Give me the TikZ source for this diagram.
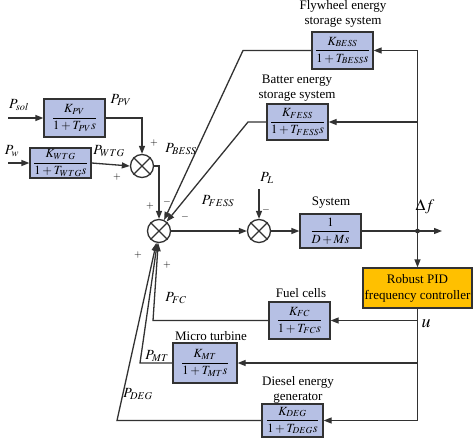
\documentclass[tikz,border=0pt]{standalone}
\usepackage{amsmath}
\usepackage{mathptmx}
\usepackage[no-math]{fontspec}
\setmainfont{Liberation Serif}
\usetikzlibrary{arrows.meta}
\definecolor{boxblue}{RGB}{182,192,228}
\definecolor{pidor}{RGB}{255,192,0}
\definecolor{edge}{RGB}{50,50,50}
\tikzset{
  blk/.style={draw=edge, fill=boxblue, line width=1.3pt, inner sep=0pt, font=\fontsize{12.5}{13}\selectfont},
  sumc/.style={circle, draw=edge, line width=1.3pt, minimum size=23pt, inner sep=0pt},
  wire/.style={draw=edge, line width=1.3pt},
  arr/.style={wire, -{Triangle[length=8pt,width=6pt]}},
  lab/.style={font=\fontsize{14}{14}\selectfont, inner sep=0pt},
  captxt/.style={font=\fontsize{13}{15}\selectfont, align=center, inner sep=0pt},
  sgn/.style={font=\fontsize{10}{10}\selectfont, inner sep=0pt}
}
\begin{document}
\begin{tikzpicture}[x=1pt,y=-1pt]
\useasboundingbox (0,0) rectangle (474,439);
% blocks
\node[blk, minimum width=61pt, minimum height=38pt] (pv) at (74.5,118) {$\dfrac{K_{PV}}{1+T_{PV}s}$};
\node[blk, minimum width=61pt, minimum height=30pt] (wtg) at (60.5,163) {$\dfrac{K_{WTG}}{1+T_{WTG}s}$};
\node[blk, minimum width=61pt, minimum height=37pt] (bess) at (342.5,50.5) {$\dfrac{K_{BESS}}{1+T_{BESS}s}$};
\node[blk, minimum width=61pt, minimum height=36pt] (fess) at (297.5,122) {$\dfrac{K_{FESS}}{1+T_{FESS}s}$};
\node[blk, minimum width=61pt, minimum height=34pt] (sys) at (330.5,231) {$\dfrac{1}{D+Ms}$};
\node[blk, minimum width=61pt, minimum height=37pt] (fc) at (299.5,320.5) {$\dfrac{K_{FC}}{1+T_{FC}s}$};
\node[blk, minimum width=64pt, minimum height=40pt] (mt) at (205,363) {$\dfrac{K_{MT}}{1+T_{MT}s}$};
\node[blk, minimum width=61pt, minimum height=33pt] (deg) at (292.5,420.5) {$\dfrac{K_{DEG}}{1+T_{DEG}s}$};
\node[draw=edge, fill=pidor, line width=1.3pt, minimum width=109pt, minimum height=40pt, align=center, inner sep=0pt, font=\fontsize{13}{16}\selectfont] (pid) at (417.5,288) {Robust PID\\frequency controller};
% summing junctions
\node[sumc] (s1) at (142,166) {};
\node[sumc] (ms) at (159,231) {};
\node[sumc] (s2) at (259,231) {};
\foreach \s in {s1,ms,s2}{
  \draw[wire] (\s.north west) -- (\s.south east);
  \draw[wire] (\s.north east) -- (\s.south west);
}
% captions
\node[captxt] (c1) at (343,14) {Flywheel energy\\storage system};
\node[captxt] (c2) at (297,88.5) {Batter energy\\storage system};
\node[captxt] (c3) at (331,203) {System};
\node[captxt] (c4) at (301,293) {Fuel cells};
\node[captxt] (c5) at (211,336) {Micro turbine};
\node[captxt] (c6) at (298,389.5) {Diesel energy\\generator};
% coordinates
\coordinate (psol) at (8,118);
\coordinate (pw) at (8,163);
\coordinate (pl) at (259,189);
\coordinate (jn) at (417.5,231);
\coordinate (out) at (442,231);
\coordinate (tr) at (417.5,50.5);
\coordinate (fr) at (417.5,122);
\coordinate (fcr) at (417.5,320.5);
\coordinate (mtr) at (417.5,363);
\coordinate (dr) at (417.5,420.5);
\coordinate (bk) at (243,50.5);
\coordinate (fk) at (248,122);
\coordinate (fck) at (153,320.5);
\coordinate (mtk) at (140,363);
\coordinate (dk) at (117,420.5);
% connectors
\draw[arr] (psol) -- (pv.west);
\draw[arr] (pw) -- (wtg.west);
\draw[arr] (pv.east) -| (s1.north);
\draw[arr] (wtg.east) -- (s1.west);
\draw[arr] (s1.east) -| (ms.north);
\draw[arr] (ms.east) -- (s2.west);
\draw[arr] (pl) -- (s2.north);
\draw[arr] (s2.east) -- (sys.west);
\draw[arr] (sys.east) -- (out);
\draw[arr] (jn) -- (pid.north);
\draw[arr] (jn) -- (tr) -- (bess.east);
\draw[arr] (fr) -- (fess.east);
\draw[wire] (pid.south) -- (dr);
\draw[arr] (fcr) -- (fc.east);
\draw[arr] (mtr) -- (mt.east);
\draw[arr] (dr) -- (deg.east);
\draw[arr] (bess.west) -- (bk) -- (ms);
\draw[arr] (fess.west) -- (fk) -- (ms);
\draw[arr] (fc.west) -- (fck) -- (ms);
\draw[arr] (mt.west) -- (mtk) -- (ms);
\draw[arr] (deg.west) -- (dk) -- (ms);
\fill[edge] (jn) circle (2.4pt);
% labels
\node[lab] (lsol) at (19,105) {$P_{sol}$};
\node[lab] (lw) at (12,151) {$P_{w}$};
\node[lab] (lpv) at (121,100) {$P_{PV}$};
\node[lab] (lwtg) at (109,151) {$P_{WTG}$};
\node[lab] (lbess) at (181,149) {$P_{BESS}$};
\node[lab] (lfess) at (218,201) {$P_{FESS}$};
\node[lab] (lpl) at (267,178) {$P_{L}$};
\node[lab, font=\fontsize{16}{16}\selectfont] (ldf) at (425,207) {$\Delta f$};
\node[lab, font=\fontsize{18}{18}\selectfont] (lu) at (426,324) {$u$};
\node[lab] (lfc) at (176,298) {$P_{FC}$};
\node[lab] (lmt) at (157,356) {$P_{MT}$};
\node[lab] (ldeg) at (138,394) {$P_{DEG}$};
% signs
\node[sgn] (g1) at (154,143) {$+$};
\node[sgn] (g2) at (117,177) {$+$};
\node[sgn] (g3) at (150,206) {$+$};
\node[sgn] (g4) at (167,202) {$-$};
\node[sgn] (g5) at (185,217) {$-$};
\node[sgn] (g6) at (138,255) {$+$};
\node[sgn] (g7) at (167,265) {$+$};
\node[sgn] (g8) at (266,210) {$-$};
\end{tikzpicture}
\end{document}
